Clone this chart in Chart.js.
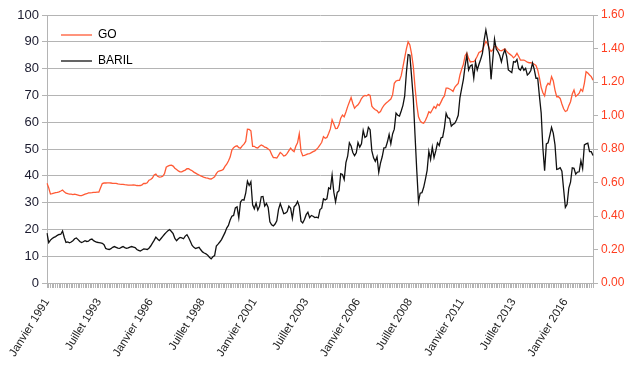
<!DOCTYPE html>
<html>
<head>
<meta charset="utf-8">
<script src="https://cdn.jsdelivr.net/npm/chart.js@4.4.1/dist/chart.umd.min.js"></script>
<style>
body { margin: 0; background: #fff; }
#wrap { width: 638px; height: 373px; position: relative; }
</style>
</head>
<body>
<div id="wrap"><canvas id="graph"></canvas></div>
<script>
var moisNoms = ["Janvier", "Février", "Mars", "Avril", "Mai", "Juin", "Juillet", "Août", "Septembre", "Octobre", "Novembre", "Décembre"];
var anneeDebut = 1991;

// prix du baril (euros), un mois par valeur, janvier 1991 -> mai 2017
var baril = [
    18.6, 15.1, 16.0, 16.6, 17.0, 17.3, 17.8, 18.1, 18.2, 19.4, 17.0, 15.1,
    15.3, 15.0, 15.3, 15.8, 16.5, 16.8, 16.2, 15.5, 15.1, 15.4, 15.8, 15.5,
    15.6, 16.2, 16.4, 15.8, 15.4, 15.2, 15.1, 15.0, 14.8, 14.3, 12.9, 12.6,
    12.5, 12.8, 13.3, 13.6, 13.3, 13.0, 12.9, 13.3, 13.6, 13.2, 12.9, 13.1,
    13.4, 13.6, 13.4, 13.2, 12.5, 12.2, 11.9, 12.3, 12.7, 12.6, 12.5, 13.0,
    13.8, 14.9, 15.9, 17.1, 16.4, 15.8, 16.6, 17.4, 18.2, 18.9, 19.5, 19.9,
    19.2, 18.4, 16.6, 15.8, 16.5, 17.0, 16.8, 16.5, 17.5, 18.0, 16.9, 15.5,
    14.0, 13.3, 12.9, 13.1, 13.3, 12.4, 11.6, 11.2, 10.9, 10.4, 9.6, 9.0,
    9.8, 10.2, 13.8, 14.5, 15.3, 16.2, 17.5, 18.8, 20.5, 21.5, 23.5, 24.9,
    25.2, 28.0, 28.4, 24.3, 30.2, 31.1, 30.9, 33.5, 38.0, 36.4, 37.8, 29.2,
    27.7, 29.8, 27.2, 28.6, 32.2, 32.3, 28.7, 29.7, 28.2, 22.8, 21.7, 21.3,
    22.0, 23.2, 27.5, 29.6, 27.8, 25.9, 26.1, 26.6, 28.7, 27.9, 24.1, 28.4,
    29.1, 30.4, 28.6, 23.1, 22.4, 23.7, 25.5, 26.4, 24.4, 25.2, 24.9, 24.4,
    24.6, 24.3, 27.4, 27.9, 31.4, 31.0, 31.4, 35.5, 35.1, 40.3, 33.9, 30.3,
    33.8, 34.4, 40.8, 40.5, 38.6, 44.9, 47.3, 52.3, 51.1, 48.7, 47.5, 48.6,
    52.4, 50.7, 51.9, 56.9, 54.3, 54.8, 58.1, 57.2, 49.3, 46.7, 45.4, 47.1,
    41.3, 44.7, 47.1, 50.4, 50.5, 52.6, 55.4, 51.9, 55.6, 57.4, 63.4, 62.6,
    62.3, 64.2, 66.3, 69.7, 78.5, 85.2, 85.0, 77.1, 68.8, 55.1, 42.1, 30.3,
    33.5, 33.7, 35.7, 38.7, 42.0, 49.1, 46.1, 50.7, 46.8, 49.3, 52.3, 51.3,
    54.1, 54.4, 58.0, 63.3, 61.7, 61.4, 58.5, 59.2, 59.6, 60.8, 62.6, 69.2,
    72.6, 76.0, 81.1, 85.0, 79.5, 81.0, 81.4, 76.5, 82.4, 79.5, 81.6, 83.5,
    85.7, 90.6, 94.4, 90.8, 86.3, 76.0, 83.4, 91.0, 87.3, 86.3, 84.9, 82.5,
    85.3, 87.0, 84.7, 79.5, 79.0, 78.5, 82.6, 82.4, 83.4, 80.0, 79.4, 80.9,
    79.4, 80.1, 77.6, 78.2, 79.3, 82.1, 79.7, 76.4, 76.4, 69.7, 63.5, 50.3,
    41.9, 51.9, 52.3, 55.1, 58.1, 55.9, 51.6, 42.4, 42.6, 43.0, 41.7, 35.0,
    28.2, 29.4, 35.4, 37.6, 43.0, 42.8, 40.6, 41.4, 41.5, 45.6, 42.7, 51.5,
    51.9, 52.2, 49.0, 49.0, 47.6
];

// prix du gazole (euros / litre), axe de droite
var gazole = [
    0.595, 0.568, 0.531, 0.533, 0.536, 0.539, 0.541, 0.544, 0.549, 0.555, 0.544, 0.536,
    0.533, 0.531, 0.530, 0.528, 0.531, 0.528, 0.525, 0.522, 0.522, 0.526, 0.531, 0.533,
    0.538, 0.538, 0.539, 0.541, 0.541, 0.542, 0.542, 0.568, 0.594, 0.597, 0.597, 0.598,
    0.598, 0.597, 0.595, 0.595, 0.595, 0.592, 0.590, 0.589, 0.589, 0.587, 0.586, 0.584,
    0.584, 0.584, 0.586, 0.584, 0.582, 0.581, 0.582, 0.586, 0.595, 0.594, 0.598, 0.614,
    0.618, 0.627, 0.645, 0.650, 0.637, 0.632, 0.634, 0.637, 0.653, 0.691, 0.698, 0.702,
    0.704, 0.698, 0.685, 0.677, 0.669, 0.664, 0.664, 0.669, 0.674, 0.682, 0.682, 0.675,
    0.670, 0.662, 0.656, 0.650, 0.645, 0.640, 0.635, 0.630, 0.627, 0.626, 0.622, 0.621,
    0.627, 0.634, 0.653, 0.666, 0.669, 0.672, 0.678, 0.696, 0.709, 0.728, 0.752, 0.794,
    0.808, 0.816, 0.819, 0.808, 0.805, 0.819, 0.829, 0.845, 0.918, 0.917, 0.909, 0.816,
    0.816, 0.808, 0.806, 0.816, 0.824, 0.819, 0.811, 0.808, 0.800, 0.792, 0.768, 0.749,
    0.749, 0.746, 0.762, 0.779, 0.771, 0.758, 0.762, 0.774, 0.790, 0.805, 0.792, 0.784,
    0.816, 0.837, 0.891, 0.787, 0.760, 0.762, 0.766, 0.771, 0.773, 0.778, 0.784, 0.789,
    0.798, 0.810, 0.824, 0.840, 0.874, 0.864, 0.869, 0.893, 0.920, 0.974, 0.949, 0.922,
    0.923, 0.944, 0.984, 1.003, 0.992, 1.021, 1.053, 1.080, 1.107, 1.072, 1.043, 1.056,
    1.064, 1.080, 1.101, 1.114, 1.120, 1.117, 1.125, 1.120, 1.056, 1.043, 1.034, 1.029,
    1.016, 1.024, 1.045, 1.061, 1.072, 1.080, 1.090, 1.098, 1.123, 1.192, 1.206, 1.210,
    1.210, 1.238, 1.291, 1.344, 1.398, 1.440, 1.421, 1.368, 1.293, 1.168, 1.064, 0.992,
    0.968, 0.957, 0.954, 0.970, 0.994, 1.022, 1.016, 1.034, 1.053, 1.043, 1.067, 1.059,
    1.080, 1.102, 1.117, 1.163, 1.163, 1.158, 1.152, 1.144, 1.168, 1.181, 1.192, 1.242,
    1.277, 1.306, 1.357, 1.373, 1.341, 1.320, 1.322, 1.322, 1.334, 1.354, 1.376, 1.381,
    1.389, 1.418, 1.443, 1.427, 1.400, 1.382, 1.392, 1.414, 1.411, 1.397, 1.389, 1.386,
    1.392, 1.398, 1.384, 1.373, 1.365, 1.357, 1.344, 1.354, 1.371, 1.352, 1.331, 1.331,
    1.331, 1.325, 1.318, 1.315, 1.315, 1.312, 1.306, 1.299, 1.272, 1.224, 1.168, 1.136,
    1.117, 1.173, 1.192, 1.184, 1.232, 1.208, 1.152, 1.112, 1.112, 1.102, 1.069, 1.040,
    1.024, 1.029, 1.059, 1.082, 1.128, 1.152, 1.114, 1.123, 1.133, 1.157, 1.144, 1.192,
    1.262, 1.254, 1.242, 1.232, 1.211
];

var labels = [];
for (var i = 0; i < baril.length; i++) {
    labels.push(moisNoms[i % 12] + " " + (anneeDebut + Math.floor(i / 12)));
}

var police = "'Liberation Sans', Arial, sans-serif";
var gris = "#b4b4b4";

var chart = new Chart(document.getElementById("graph").getContext("2d"), {
    type: "line",
    data: {
        labels: labels,
        datasets: [
            {
                label: "GO",
                data: gazole,
                yAxisID: "y1",
                borderColor: "#ff5a35",
                backgroundColor: "#ff5a35",
                borderWidth: 1.3,
                pointRadius: 0,
                order: 1
            },
            {
                label: "BARIL",
                data: baril,
                yAxisID: "y",
                borderColor: "#111111",
                backgroundColor: "#111111",
                borderWidth: 1.3,
                pointRadius: 0,
                order: 0
            }
        ]
    },
    options: {
        responsive: true,
        maintainAspectRatio: false,
        animation: false,
        layout: { padding: { top: 15, left: 0, right: 0, bottom: 0 } },
        plugins: {
            tooltip: { enabled: false },
            legend: {
                position: "chartArea",
                align: "start",
                // titre vide : sert juste a descendre la legende
                title: { display: true, text: " ", font: { size: 10 }, padding: { top: 3, bottom: 0 } },
                labels: {
                    usePointStyle: true,
                    pointStyle: "line",
                    pointStyleWidth: 31,
                    padding: 14,
                    color: "#000",
                    font: { family: police, size: 12 },
                    sort: function(a, b) { return a.datasetIndex - b.datasetIndex; }
                }
            }
        },
        scales: {
            x: {
                offset: false,
                grid: { drawOnChartArea: false, color: gris, tickLength: 5, offset: false },
                border: { color: gris },
                ticks: {
                    autoSkip: false,
                    minRotation: 58,
                    maxRotation: 58,
                    padding: 8,
                    color: "#222",
                    font: { family: police, size: 11.5 },
                    callback: function(value, index) {
                        return index % 30 === 0 ? this.getLabelForValue(value) : "";
                    }
                },
                afterFit: function(scale) { scale.height = 90; }
            },
            y: {
                position: "left",
                min: 0,
                max: 100,
                ticks: { stepSize: 10, padding: 3, color: "#1a1a2e", font: { family: police, size: 13 } },
                grid: { color: gris, tickLength: 5 },
                border: { color: gris },
                afterFit: function(scale) { scale.width = 47; }
            },
            y1: {
                position: "right",
                min: 0,
                max: 1.6,
                ticks: {
                    stepSize: 0.2,
                    padding: 3,
                    color: "#ff3d1f",
                    font: { family: police, size: 12 },
                    callback: function(value) { return value.toFixed(2); }
                },
                grid: { drawOnChartArea: false, color: gris, tickLength: 5 },
                border: { color: gris },
                afterFit: function(scale) { scale.width = 45; }
            }
        }
    }
});
</script>
</body>
</html>
